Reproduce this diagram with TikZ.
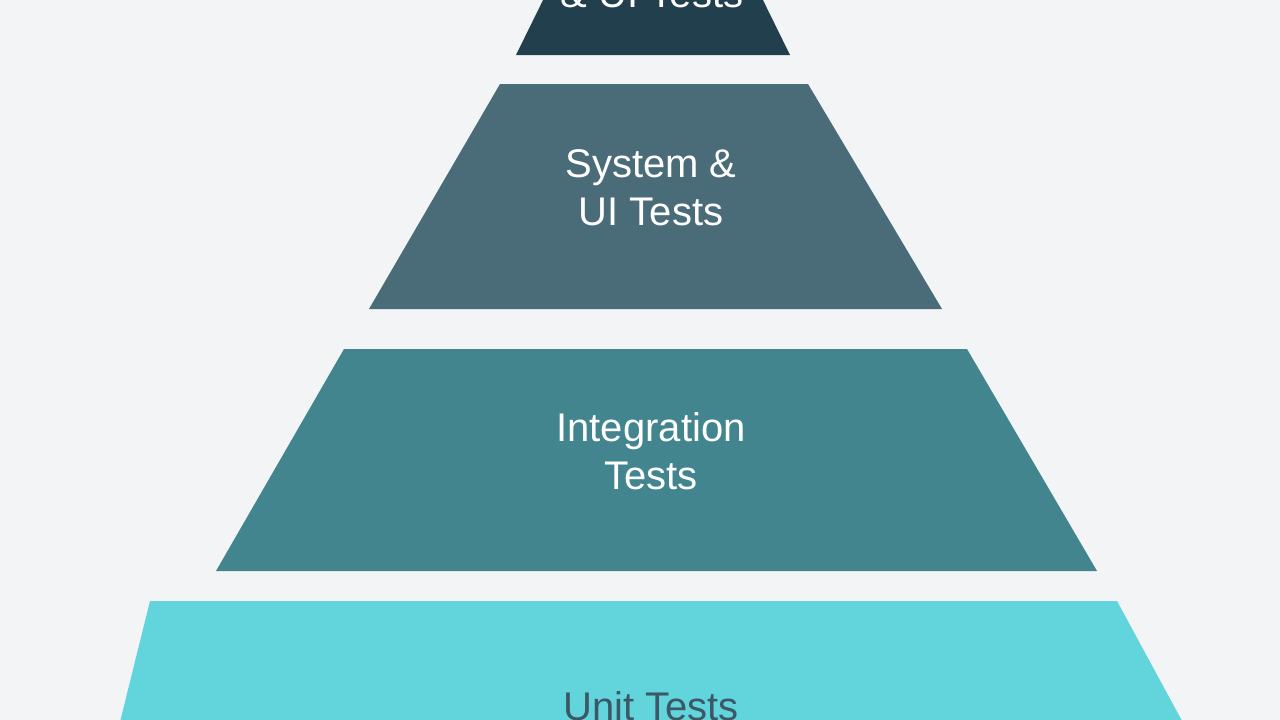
\documentclass[tikz,border=0pt]{standalone}
\usepackage{fontspec}
\setmainfont{Liberation Sans}
\definecolor{bg}{HTML}{F3F4F5}
\definecolor{tA}{HTML}{223F4E}
\definecolor{tB}{HTML}{4A6B78}
\definecolor{tC}{HTML}{43858F}
\definecolor{tD}{HTML}{62D5DC}
\definecolor{tDtext}{HTML}{3C5866}
\tikzset{lbl/.style={font=\fontsize{40}{48}\selectfont, align=center, text=white, inner sep=0pt}}
\begin{document}
\begin{tikzpicture}[x=1pt,y=-1pt]
\useasboundingbox (0,0) rectangle (1280,720);
\clip (0,0) rectangle (1280,720);
\fill[bg] (0,0) rectangle (1280,720);
\fill[tA] (548,-10) -- (758,-10) -- (790,55) -- (516,55) -- cycle;
\fill[tB] (500,84) -- (808,84) -- (942,309) -- (369,309) -- cycle;
\fill[tC] (344,349) -- (967,349) -- (1097,571) -- (216,571) -- cycle;
\fill[tD] (150,601) -- (1117,601) -- (1187,730) -- (118,730) -- cycle;
\node[lbl] (a) at (652,-6) {\& UI Tests};
\node[lbl] (b) at (651,188) {System \&\\UI Tests};
\node[lbl] (c) at (651,451) {Integration\\Tests};
\node[lbl, text=tDtext] (d) at (651,706) {Unit Tests};
\end{tikzpicture}
\end{document}
